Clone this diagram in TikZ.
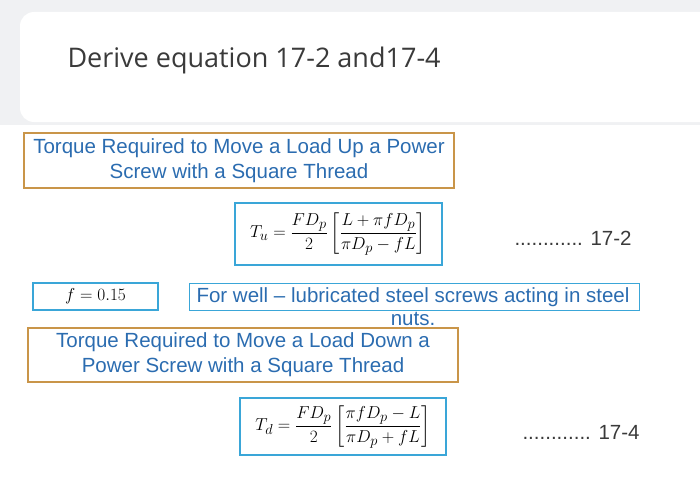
\documentclass[tikz,border=0pt]{standalone}
\usepackage{fontspec}
\setmainfont{Liberation Sans}
\newfontfamily\titlefont{Open Sans}
\usepackage{amsmath}
\definecolor{bgg}{HTML}{F0F1F3}
\definecolor{ob}{HTML}{C99549}
\definecolor{bb}{HTML}{3AA6D8}
\definecolor{tb}{HTML}{2B6CB0}
\definecolor{tg}{HTML}{3A3A3A}
\tikzset{
 obox/.style={draw=ob,line width=1.5pt,inner sep=0pt},
 bbox/.style={draw=bb,line width=1.5pt,inner sep=0pt},
 txt/.style={text=tb,font=\fontsize{20.5}{25}\selectfont,align=center},
}
\begin{document}
\begin{tikzpicture}[x=1pt,y=-1pt]
\useasboundingbox (0,0) rectangle (700,500);
\fill[bgg] (0,0) rectangle (700,125);
\fill[white,rounded corners=14pt] (20,12) rectangle (720,122);
\node[anchor=west,text=tg,font=\titlefont\fontsize{27}{32}\selectfont] (title) at (64,60) {Derive equation 17-2 and17-4};
\draw[obox] (24,133) rectangle (454,188);
\node[txt] (t1) at (239,160.5) {Torque Required to Move a Load Up a Power\\Screw with a Square Thread};
\draw[bbox] (235,203) rectangle (442,265);
\node (e1) at (338,234) {\fontsize{19}{22}\selectfont$T_u=\dfrac{FD_p}{2}\left[\dfrac{L+\pi fD_p}{\pi D_p-fL}\right]$};
\node[txt,anchor=west,text=tg] (n1) at (511,238) {............ 17-2};
\draw[bbox] (33,283) rectangle (158,310);
\node (f) at (95.5,296.5) {\fontsize{18}{20}\selectfont$f=0.15$};
\draw[bbox,line width=1pt] (189,283) rectangle (639,310);
\node[txt,anchor=west] (fw) at (193,297) {For well -- lubricated steel screws acting in steel};
\node[txt] (nuts) at (413,319) {nuts.};
\draw[obox] (28,328) rectangle (458,382);
\node[txt] (t2) at (243,355) {Torque Required to Move a Load Down a\\Power Screw with a Square Thread};
\draw[bbox] (240,398) rectangle (446,455);
\node (e2) at (343,427) {\fontsize{19}{22}\selectfont$T_d=\dfrac{FD_p}{2}\left[\dfrac{\pi fD_p-L}{\pi D_p+fL}\right]$};
\node[txt,anchor=west,text=tg] (n2) at (519,432) {............ 17-4};
\end{tikzpicture}
\end{document}
